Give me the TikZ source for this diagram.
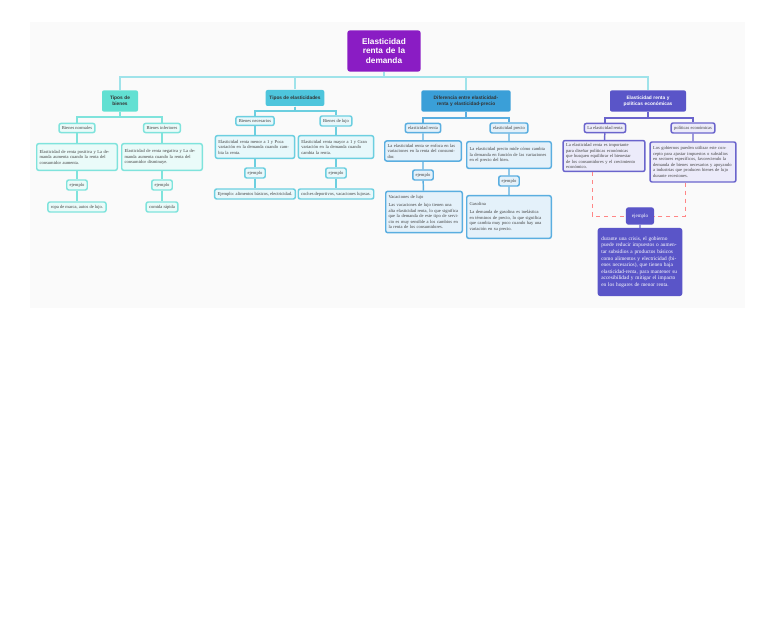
\documentclass[tikz,border=0pt]{standalone}
\usepackage{fontspec}
\setmainfont{Liberation Serif}
\newfontfamily\hfont{Liberation Sans}
\begin{document}
\begin{tikzpicture}[x=0.75pt,y=-0.75pt,
  base/.style={rounded corners=1.5pt,line width=1.1pt,align=left,inner sep=2.2pt,font=\fontsize{3.4}{4.1}\selectfont},
  headbox/.style={base,align=center,font=\hfont\bfseries\fontsize{3.6}{4.4}\selectfont,inner sep=2.5pt},
  tA/.style={base,draw=cA,fill=fA,text=black!75},
  tB/.style={base,draw=cB,fill=fB,text=black!75},
  tC/.style={base,draw=cC,fill=fC,text=black!75},
  tD/.style={base,draw=cD,fill=fD,text=black!75},
  lA/.style={draw=cA,line width=1.1pt},
  lB/.style={draw=cB,line width=1.1pt},
  lC/.style={draw=cC,line width=1.1pt},
  lD/.style={draw=cD,line width=1.1pt},
  dashl/.style={draw=pink!70!red,dashed,line width=0.5pt}]
\definecolor{cA}{HTML}{7FE3DC}\definecolor{fA}{HTML}{EAFBF9}
\definecolor{cB}{HTML}{6CCFE0}\definecolor{fB}{HTML}{E8F8FB}
\definecolor{cC}{HTML}{5AAEE0}\definecolor{fC}{HTML}{E4F1FA}
\definecolor{cD}{HTML}{6A64CC}\definecolor{fD}{HTML}{ECEBFA}
\definecolor{hA}{HTML}{62E0D2}\definecolor{hB}{HTML}{4EC5DC}
\definecolor{hC}{HTML}{3A9FD8}\definecolor{hD}{HTML}{5A55C8}
\definecolor{rootc}{HTML}{8A1CC4}\definecolor{busc}{HTML}{9FE3EA}
\useasboundingbox (0,0) rectangle (768,624);
\fill[black!2] (30,22) rectangle (745,308);
% root
\node[headbox,fill=rootc,text=white,font=\hfont\bfseries\fontsize{6.2}{7.2}\selectfont,minimum width=55pt,minimum height=31pt,text width=46pt,rounded corners=2pt] (root) at (384,51) {Elasticidad renta de la demanda};
% branch heads
\node[headbox,fill=hA,text=black!80,text width=22pt,minimum height=16pt] (h1) at (120,101) {Tipos de bienes};
\node[headbox,fill=hB,text=black!80,minimum width=44pt,minimum height=12pt] (h2) at (295,98) {Tipos de elasticidades};
\node[headbox,fill=hC,text=black!80,text width=62pt,minimum height=16pt] (h3) at (466,101) {Diferencia entre elasticidad-renta y elasticidad-precio};
\node[headbox,fill=hD,text=white,text width=52pt,minimum height=16pt] (h4) at (648,101) {Elasticidad renta y políticas económicas};
\coordinate (bus) at (384,77);
\draw[draw=busc,line width=1.1pt] (root.south) -- (bus);
\foreach \h in {h1,h2,h3,h4}{\draw[draw=busc,line width=1.1pt] (\h.north) |- (bus);}
% branch 1
\node[tA] (a1) at (77,128) {Bienes normales};
\node[tA] (a2) at (162,128) {Bienes inferiores};
\node[tA,text width=56pt,minimum height=20pt] (a3) at (77,157) {Elasticidad de renta positiva y La demanda aumenta cuando la renta del consumidor aumenta.};
\node[tA,text width=56pt,minimum height=20pt] (a4) at (162,157) {Elasticidad de renta negativa y La demanda aumenta cuando la renta del consumidor disminuye.};
\node[tA] (a5) at (77,185) {ejemplo};
\node[tA] (a6) at (162,185) {ejemplo};
\node[tA] (a7) at (77,207) {ropa de marca, autos de lujo.};
\node[tA] (a8) at (162,207) {comida rápida};
\draw[lA] (h1.south) -- (h1.south |- 0,117) -| (a1.north);
\draw[lA] (h1.south) -- (h1.south |- 0,117) -| (a2.north);
\draw[lA] (a1)--(a3) (a3)--(a5) (a5)--(a7) (a2)--(a4) (a4)--(a6) (a6)--(a8);
% branch 2
\node[tB] (b1) at (255,121) {Bienes necesarios};
\node[tB] (b2) at (336,121) {Bienes de lujo};
\node[tB,text width=55pt,minimum height=17pt] (b3) at (255,147) {Elasticidad renta menor a 1 y Poca variación en la demanda cuando cambia la renta.};
\node[tB,text width=52pt,minimum height=17pt] (b4) at (336,147) {Elasticidad renta mayor a 1 y Gran variación en la demanda cuando cambia la renta.};
\node[tB] (b5) at (255,173) {ejemplo};
\node[tB] (b6) at (336,173) {ejemplo};
\node[tB] (b7) at (255,194) {Ejemplo: alimentos básicos, electricidad.};
\node[tB] (b8) at (336,194) {coches deportivos, vacaciones lujosas.};
\draw[lB] (h2.south) -- (h2.south |- 0,111) -| (b1.north);
\draw[lB] (h2.south) -- (h2.south |- 0,111) -| (b2.north);
\draw[lB] (b1)--(b3) (b3)--(b5) (b5)--(b7) (b2)--(b4) (b4)--(b6) (b6)--(b8);
% branch 3
\node[tC] (c1) at (423,128) {elasticidad renta};
\node[tC] (c2) at (509,128) {elasticidad precio};
\node[tC,text width=53pt,minimum height=14pt] (c3) at (423,151) {La elasticidad renta se enfoca en las variaciones en la renta del consumidor.};
\node[tC,text width=59pt,minimum height=20pt] (c4) at (509,155) {La elasticidad precio mide cómo cambia la demanda en función de las variaciones en el precio del bien.};
\node[tC] (c5) at (423,175) {ejemplo};
\node[tC] (c6) at (509,181) {ejemplo};
\node[tC,text width=53pt,minimum height=31pt] (c7) at (424,212) {Vacaciones de lujo\\[2pt]Las vacaciones de lujo tienen una alta elasticidad renta, lo que significa que la demanda de este tipo de servicio es muy sensible a los cambios en la renta de los consumidores.};
\node[tC,text width=59pt,minimum height=32pt] (c8) at (509,217) {Gasolina\\[2pt]La demanda de gasolina es inelástica en términos de precio, lo que significa que cambia muy poco cuando hay una variación en su precio.};
\draw[lC] (h3.south) -- (h3.south |- 0,118) -| (c1.north);
\draw[lC] (h3.south) -- (h3.south |- 0,118) -| (c2.north);
\draw[lC] (c1)--(c3) (c3)--(c5) (c5)--(c7) (c2)--(c4) (c4)--(c6) (c6)--(c8);
% branch 4
\node[tD] (d1) at (605,128) {La elasticidad renta};
\node[tD] (d2) at (693,128) {políticas económicas};
\node[tD,text width=57pt,minimum height=20pt] (d3) at (604,156) {La elasticidad renta es importante para diseñar políticas económicas que busquen equilibrar el bienestar de los consumidores y el crecimiento económico.};
\node[tD,text width=60pt,minimum height=30pt] (d4) at (693,162) {Los gobiernos pueden utilizar este concepto para ajustar impuestos o subsidios en sectores específicos, favoreciendo la demanda de bienes necesarios y apoyando a industrias que producen bienes de lujo durante recesiones.};
\node[base,fill=hD,draw=hD,text=white,minimum width=20pt,minimum height=12pt,font=\fontsize{3.8}{4.4}\selectfont] (d5) at (640,216) {ejemplo};
\node[base,fill=hD,draw=hD,text=white,text width=58pt,font=\fontsize{4}{4.9}\selectfont,minimum height=50pt] (d6) at (640,262) {durante una crisis, el gobierno puede reducir impuestos o aumentar subsidios a productos básicos como alimentos y electricidad (bienes necesarios), que tienen baja elasticidad-renta, para mantener su accesibilidad y mitigar el impacto en los hogares de menor renta.};
\draw[lD] (h4.south) -- (h4.south |- 0,118) -| (d1.north);
\draw[lD] (h4.south) -- (h4.south |- 0,118) -| (d2.north);
\draw[lD] (d1)--(d3) (d2)--(d4) (d5)--(d6);
\draw[dashl] (d3.south -| 592,0) |- (d5.west);
\draw[dashl] (d4.south -| 685,0) |- (d5.east);
\end{tikzpicture}
\end{document}
